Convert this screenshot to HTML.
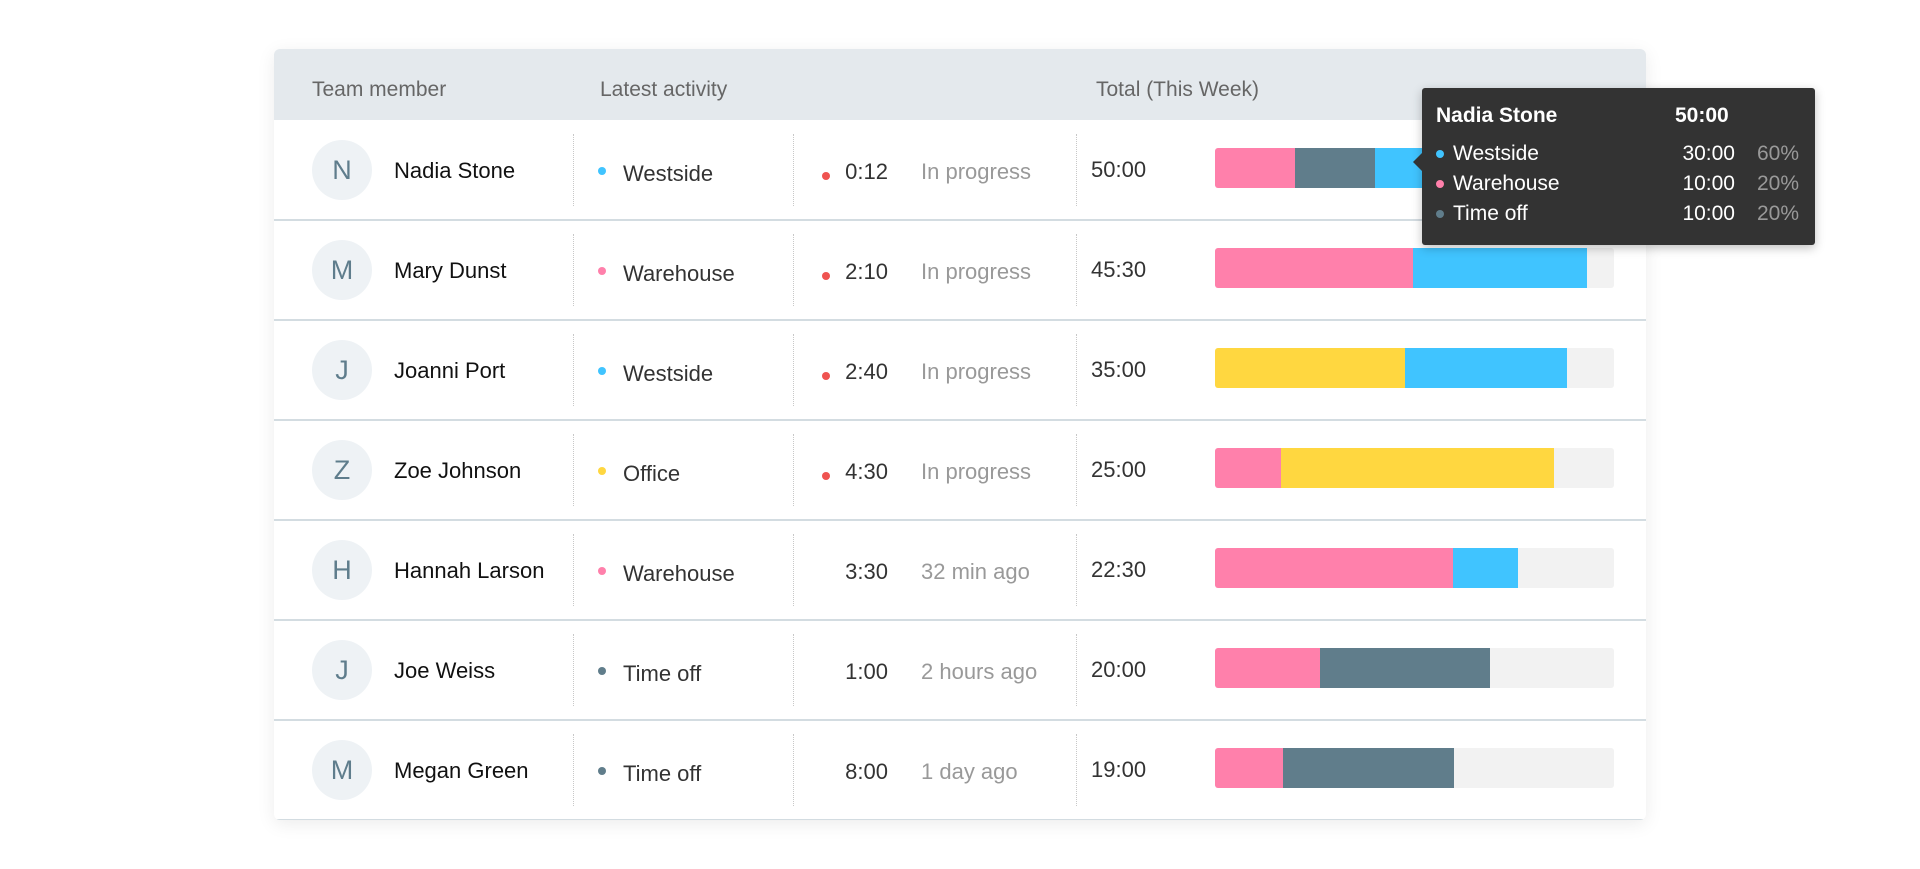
<!DOCTYPE html>
<html><head><meta charset="utf-8"><style>
*{margin:0;padding:0;box-sizing:border-box}
body{width:1920px;height:869px;background:#fff;position:relative;overflow:hidden;font-family:"Liberation Sans",sans-serif}
.abs{position:absolute}
#card{left:274px;top:49px;width:1372px;height:771px;background:#fff;border-radius:6px;box-shadow:0 4px 18px rgba(0,0,0,0.08);overflow:hidden}
#hdr{left:0;top:0;width:1372px;height:71px;background:#e4e9ed}
.h{top:5px;line-height:71px;font-size:21px;color:#666}
.row{left:0;width:1372px;height:101px;border-bottom:2px solid #d3dce1}
.av{left:38px;top:20px;width:60px;height:60px;border-radius:50%;background:#eef2f5;color:#5f7d8c;font-size:27px;text-align:center;line-height:60px}
.txt{top:0;line-height:100px;font-size:22px;white-space:nowrap}
.sep{top:14px;height:72px;border-left:1px dotted #c8c8c8}
.dot{width:8px;height:8px;border-radius:50%;top:48px}
.seg{top:0;height:40px}
#tip{left:1422px;top:88px;width:393px;height:157px;background:#333;border-radius:3px;box-shadow:0 3px 10px rgba(0,0,0,0.25);color:#fff}
</style></head><body>
<div id="card" class="abs">
 <div id="hdr" class="abs">
  <div class="abs h" style="left:38px">Team member</div>
  <div class="abs h" style="left:326px">Latest activity</div>
  <div class="abs h" style="left:822px">Total (This Week)</div>
 </div>
</div>
<div id="tip" class="abs">
 <div class="abs" style="left:-9px;top:65px;width:0;height:0;border-top:9px solid transparent;border-bottom:9px solid transparent;border-right:9px solid #333"></div>
 <div class="abs" style="left:14px;top:16px;font-size:21px;font-weight:bold">Nadia Stone</div>
 <div class="abs" style="left:253px;top:16px;font-size:21px;font-weight:bold">50:00</div>
 <div id="tiprows"></div>
</div>
<script>
const names=["Nadia Stone","Mary Dunst","Joanni Port","Zoe Johnson","Hannah Larson","Joe Weiss","Megan Green"];
const activities=["Westside","Warehouse","Westside","Office","Warehouse","Time off","Time off"];
const times=["0:12","2:10","2:40","4:30","3:30","1:00","8:00"];
const statuses=["In progress","In progress","In progress","In progress","32 min ago","2 hours ago","1 day ago"];
const totals=["50:00","45:30","35:00","25:00","22:30","20:00","19:00"];
const segCats=[["Warehouse","Time off","Westside"],["Warehouse","Westside"],["Office","Westside"],["Warehouse","Office"],["Warehouse","Westside"],["Warehouse","Time off"],["Warehouse","Time off"]];
const segHours=[[10,10,30],[24.8,21.8],[23.8,20.3],[8.3,34.2],[29.8,8.2],[13.1,21.4],[8.5,21.4]];
const tipLabels=["Westside","Warehouse","Time off"];
const tipValues=["30:00","10:00","10:00"];
const tipPct=["60%","20%","20%"];
const colors={"Westside":"#40c4ff","Warehouse":"#ff80ab","Time off":"#607d8b","Office":"#ffd740"};
const maxH=50, trackX=941, trackW=399;
const xs=h=>h/maxH*trackW;
const card=document.getElementById('card');
names.forEach((n,i)=>{
 const r=document.createElement('div');r.className='abs row';r.style.top=(71+i*100)+'px';
 
 
 let h='';
 h+=`<div class="abs av">${n[0]}</div>`;
 h+=`<div class="abs txt" style="left:120px;top:1px;color:#111">${n}</div>`;
 h+=`<div class="abs sep" style="left:299px"></div><div class="abs sep" style="left:519px"></div><div class="abs sep" style="left:802px"></div>`;
 h+=`<div class="abs dot" style="left:324px;top:47px;background:${colors[activities[i]]}"></div>`;
 h+=`<div class="abs txt" style="left:349px;top:4px;color:#333">${activities[i]}</div>`;
 if(statuses[i]==="In progress") h+=`<div class="abs dot" style="left:548px;top:52px;background:#ef5350"></div>`;
 h+=`<div class="abs txt" style="left:518px;top:2px;width:96px;text-align:right;color:#333">${times[i]}</div>`;
 h+=`<div class="abs txt" style="left:647px;top:2px;color:#999">${statuses[i]}</div>`;
 h+=`<div class="abs txt" style="left:817px;color:#333">${totals[i]}</div>`;
 h+=`<div class="abs" style="left:${trackX}px;top:28px;width:${trackW}px;height:40px;background:#f2f2f2;border-radius:3px;overflow:hidden">`;
 let acc=0;
 segHours[i].forEach((v,j)=>{h+=`<div class="abs seg" style="left:${xs(acc)}px;width:${xs(v)}px;background:${colors[segCats[i][j]]}"></div>`;acc+=v;});
 h+='</div>';
 r.innerHTML=h;card.appendChild(r);
});
const tr=document.getElementById('tiprows');
tipLabels.forEach((l,i)=>{
 const y=54+i*30;
 tr.insertAdjacentHTML('beforeend',`<div class="abs" style="left:14px;top:${y+8}px;width:8px;height:8px;border-radius:50%;background:${colors[l]}"></div>
 <div class="abs" style="left:31px;top:${y}px;font-size:21px">${l}</div>
 <div class="abs" style="left:213px;width:100px;text-align:right;top:${y}px;font-size:21px">${tipValues[i]}</div>
 <div class="abs" style="left:320px;width:57px;text-align:right;top:${y}px;font-size:21px;color:#999">${tipPct[i]}</div>`);
});
</script>
</body></html>
